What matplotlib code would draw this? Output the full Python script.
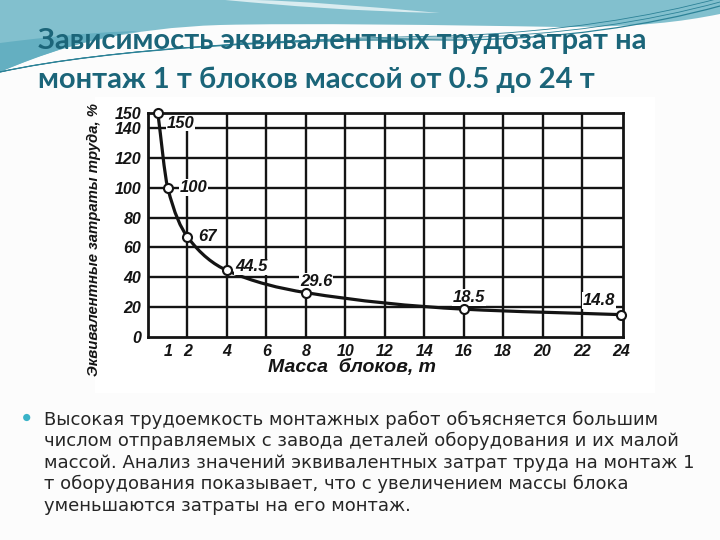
import numpy as np
import matplotlib
matplotlib.use('Agg')
from matplotlib import pyplot as plt
from matplotlib.path import Path
from matplotlib.patches import PathPatch, Rectangle, Circle

# %% Data

mass = [0.5, 1, 2, 4, 8, 16, 24]
labor = [150, 100, 67, 44.5, 29.6, 18.5, 14.8]
xticks = [1, 2, 4, 6, 8, 10, 12, 14, 16, 18, 20, 22, 24]
yticks = [0, 20, 40, 60, 80, 100, 120, 140, 150]
xgrid = [2, 4, 6, 8, 10, 12, 14, 16, 18, 20, 22]
ygrid = [20, 40, 60, 80, 100, 120, 140]

title = ['Зависимость эквивалентных трудозатрат на',
         'монтаж 1 т блоков массой от 0.5 до 24 т']
body = ['Высокая трудоемкость монтажных работ объясняется большим',
        'числом отправляемых с завода деталей оборудования и их малой',
        'массой. Анализ значений эквивалентных затрат труда на монтаж 1',
        'т оборудования показывает, что с увеличением массы блока',
        'уменьшаются затраты на его монтаж.']

# label offsets (points) for each point
offsets = [(6.5, -7), (8.5, 0), (8, 0), (6, 2.5), (-4.3, 8), (-7.7, 8.6), (-28, 10)]

ink = '#141414'
scan_font = ['Liberation Sans', 'DejaVu Sans']

# %% Figure and slide decoration

fig = plt.figure(figsize=(7.2, 5.4), dpi=100, facecolor='#fcfcfc')
bg = fig.add_axes([0, 0, 1, 1], zorder=0)
bg.set_xlim(0, 720)
bg.set_ylim(540, 0)
bg.axis('off')

M, C, L, Z = Path.MOVETO, Path.CURVE4, Path.LINETO, Path.CLOSEPOLY

band = Path([(0, 0), (720, 0), (720, 14), (680, 22), (640, 27), (560, 27),
             (450, 25), (300, 23), (220, 25),
             (130, 28), (60, 45), (0, 72), (0, 0)],
            [M, L, L, C, C, C, C, C, C, C, C, C, Z])
bg.add_patch(PathPatch(band, fc='#82c0ce', ec='none'))

swoosh = Path([(0, 72), (40, 55), (90, 38), (140, 31), (90, 32), (40, 38), (0, 43), (0, 72)],
              [M, C, C, C, C, C, C, Z])
bg.add_patch(PathPatch(swoosh, fc='#64afc1', ec='none'))

shine = Path([(225, 0), (290, 6), (350, 11), (440, 13), (360, 6), (300, 1), (255, 0), (225, 0)],
             [M, C, C, C, C, C, C, Z])
bg.add_patch(PathPatch(shine, fc='white', ec='none', alpha=0.7))

for dy, lw in [(0, 0.9), (4, 0.6), (8, 0.6)]:
    ln = Path([(0, 72), (110, 48), (300, 38), (450, 40 - dy / 2),
               (560, 40 - dy), (650, 25 - dy), (720, 6 - dy)],
              [M, C, C, C, C, C, C])
    bg.add_patch(PathPatch(ln, fc='none', ec='#2c8297', lw=lw))

bg.add_patch(Rectangle((95, 97), 560, 296, fc='white', ec='none'))

# title
for i, line in enumerate(title):
    fig.text(38 / 720, 1 - (49 + 39 * i) / 540, line, fontsize=21, fontweight='bold',
             color='#1b6579', family=['Lato', 'Open Sans', 'DejaVu Sans'], va='baseline')

# bullet text
bg.add_patch(Circle((26.7, 417.5), 3.6, fc='#3ab3c8', ec='none'))
for i, line in enumerate(body):
    fig.text(43.5 / 720, 1 - (425 + 21.4 * i) / 540, line, fontsize=13, color='#262626',
             family='DejaVu Sans', va='baseline')

# %% Chart

ax = fig.add_axes([148 / 720, 1 - 336.7 / 540, 475 / 720, 223.4 / 540], zorder=2)
ax.set_xlim(0, 24.08)
ax.set_ylim(0, 150)
ax.set_facecolor('white')

for x in xgrid:
    ax.axvline(x, color=ink, lw=1.7, zorder=1)
for y in ygrid:
    ax.axhline(y, color=ink, lw=1.7, zorder=1)
for s in ax.spines.values():
    s.set_color(ink)
    s.set_linewidth(2.0)

# smooth curve through the points (monotone cubic, drawn as bezier path)
x = np.array(mass, float)
y = np.array(labor, float)
h = np.diff(x)
d = np.diff(y) / h
m = np.empty_like(x)
m[0], m[-1] = d[0], d[-1]
for i in range(1, len(x) - 1):
    w1, w2 = 2 * h[i] + h[i - 1], h[i] + 2 * h[i - 1]
    m[i] = (w1 + w2) / (w1 / d[i - 1] + w2 / d[i])
verts = [(x[0], y[0])]
codes = [M]
for i in range(len(x) - 1):
    verts += [(x[i] + h[i] / 3, y[i] + m[i] * h[i] / 3),
              (x[i + 1] - h[i] / 3, y[i + 1] - m[i + 1] * h[i] / 3),
              (x[i + 1], y[i + 1])]
    codes += [C, C, C]
ax.add_patch(PathPatch(Path(verts, codes), fc='none', ec=ink, lw=2.3, zorder=3,
                       capstyle='round'))
ax.plot(mass, labor, 'o', mfc='white', mec=ink, ms=6.5, mew=1.5, zorder=5, clip_on=False)

for xv, yv, off in zip(mass, labor, offsets):
    ax.annotate(f'{yv:g}', (xv, yv), xytext=off, textcoords='offset points',
                ha='left', va='center', fontsize=12, fontstyle='italic', fontweight='bold',
                family=scan_font, color=ink, zorder=4,
                bbox=dict(fc='white', ec='none', pad=0.6))

ax.set_xticks(xticks)
ax.set_xticklabels([str(t) for t in xticks])
ax.set_yticks(yticks)
ax.set_yticklabels([str(t) for t in yticks])
ax.tick_params(length=0, pad=5, labelsize=11.5, colors=ink)
for lab in ax.get_xticklabels() + ax.get_yticklabels():
    lab.set_fontstyle('italic')
    lab.set_fontweight('bold')
    lab.set_family(scan_font)

fig.text(351.7 / 720, 1 - 367.3 / 540, 'Масса  блоков, т', ha='center', va='center',
         fontsize=14, fontstyle='italic', fontweight='bold', family=scan_font, color=ink)
fig.text(94 / 720, 1 - 240 / 540, 'Эквивалентные затраты труда, %', ha='center',
         va='center', rotation=90, fontsize=10.7, fontstyle='italic', fontweight='bold',
         family=scan_font, color=ink)

fig.savefig('out.png', dpi=100, facecolor=fig.get_facecolor())
